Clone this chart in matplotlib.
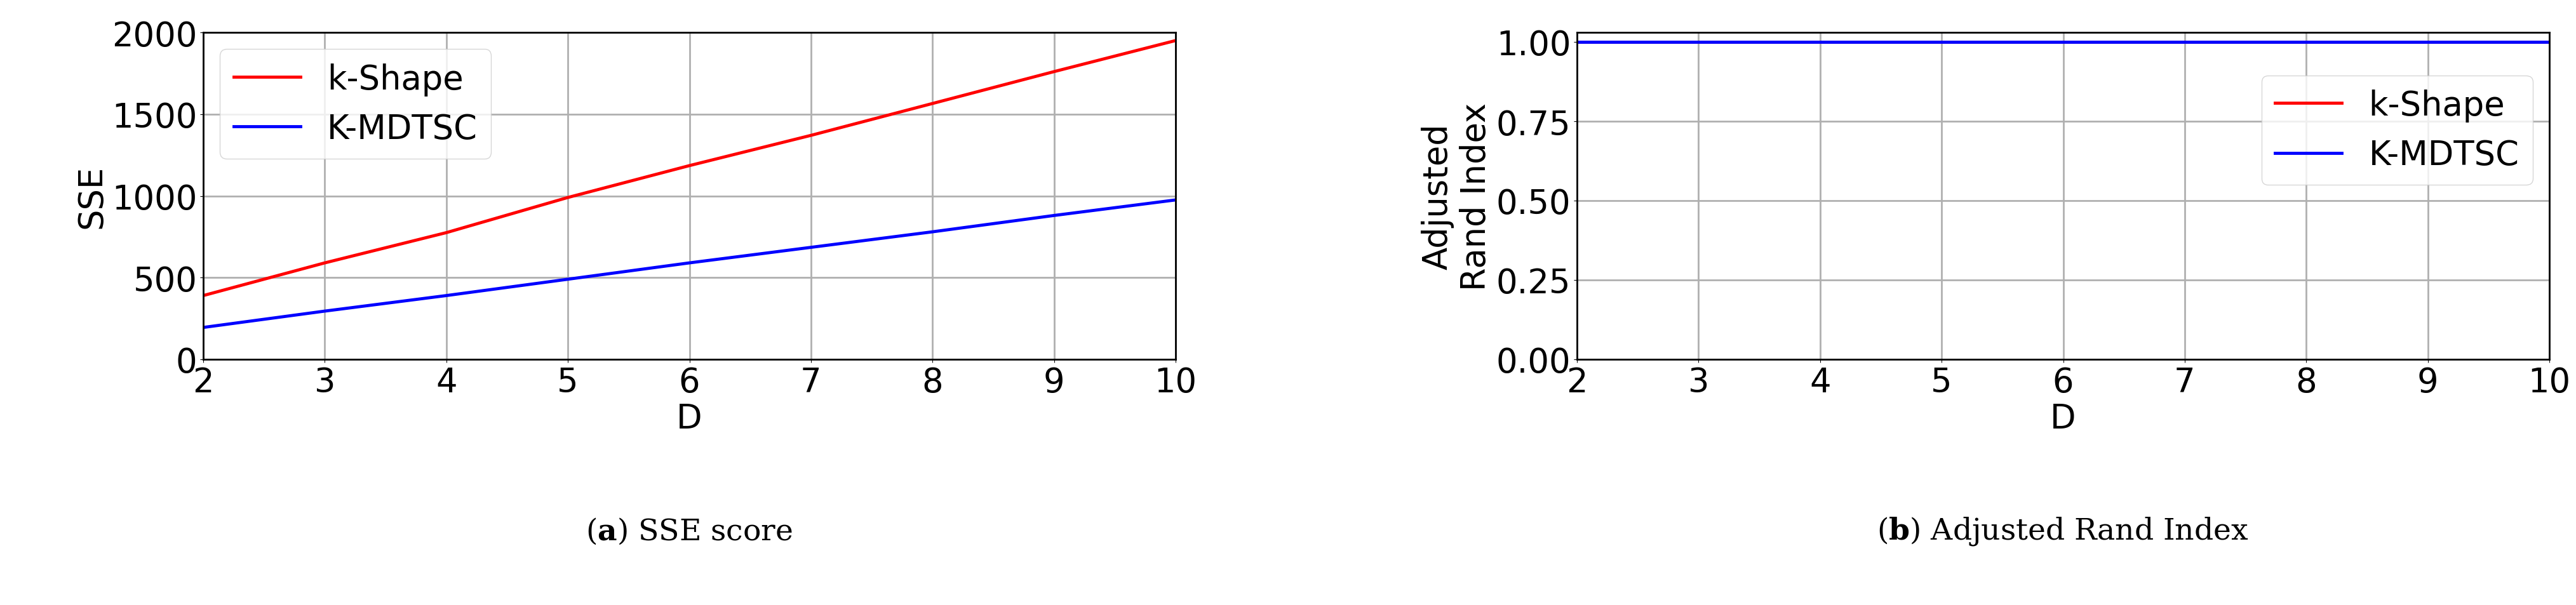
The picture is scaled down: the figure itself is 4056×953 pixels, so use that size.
import matplotlib
matplotlib.use("Agg")
import matplotlib.pyplot as plt

D = [2, 3, 4, 5, 6, 7, 8, 9, 10]
sse_kshape = [390, 590, 775, 990, 1185, 1370, 1565, 1760, 1950]
sse_kmdtsc = [195, 295, 390, 490, 590, 685, 780, 880, 975]
ari_kshape = [1.0] * 9
ari_kmdtsc = [1.0] * 9

plt.rcParams["font.size"] = 38
plt.rcParams["mathtext.fontset"] = "dejavuserif"
plt.rcParams["axes.edgecolor"] = "black"
plt.rcParams["axes.linewidth"] = 2
plt.rcParams["grid.color"] = "#b0b0b0"
plt.rcParams["grid.linewidth"] = 2

fig = plt.figure(figsize=(40.56, 9.54), dpi=100)
ax1 = fig.add_axes([320 / 4056, 1 - 567 / 954, 1531 / 4056, 515 / 954])
ax2 = fig.add_axes([2483 / 4056, 1 - 567 / 954, 1531 / 4056, 515 / 954])

ax1.plot(D, sse_kshape, color="red", lw=3.5, label="k-Shape")
ax1.plot(D, sse_kmdtsc, color="blue", lw=3.5, label="K-MDTSC")
ax1.set_xlim(2, 10)
ax1.set_ylim(0, 2000)
ax1.set_yticks([0, 500, 1000, 1500, 2000])
ax1.set_xlabel("D")
ax1.set_ylabel("SSE")
ax1.grid(True)
ax1.legend(loc="upper left")

ax2.plot(D, ari_kshape, color="red", lw=3.5, label="k-Shape")
ax2.plot(D, ari_kmdtsc, color="blue", lw=3.5, label="K-MDTSC")
ax2.set_xlim(2, 10)
ax2.set_ylim(0, 1.03)
ax2.set_yticks([0, 0.25, 0.5, 0.75, 1.0])
ax2.set_xlabel("D")
ax2.set_ylabel("Adjusted\nRand Index")
ax2.grid(True)
ax2.legend(loc="upper right", bbox_to_anchor=(1.0, 0.92))

fig.text(1085 / 4056, 1 - 837 / 954, r"($\mathbf{a}$) SSE score", ha="center", va="center",
         fontsize=34, family="DejaVu Serif")
fig.text(3248 / 4056, 1 - 837 / 954, r"($\mathbf{b}$) Adjusted Rand Index", ha="center", va="center",
         fontsize=34, family="DejaVu Serif")

fig.savefig("out.png")
